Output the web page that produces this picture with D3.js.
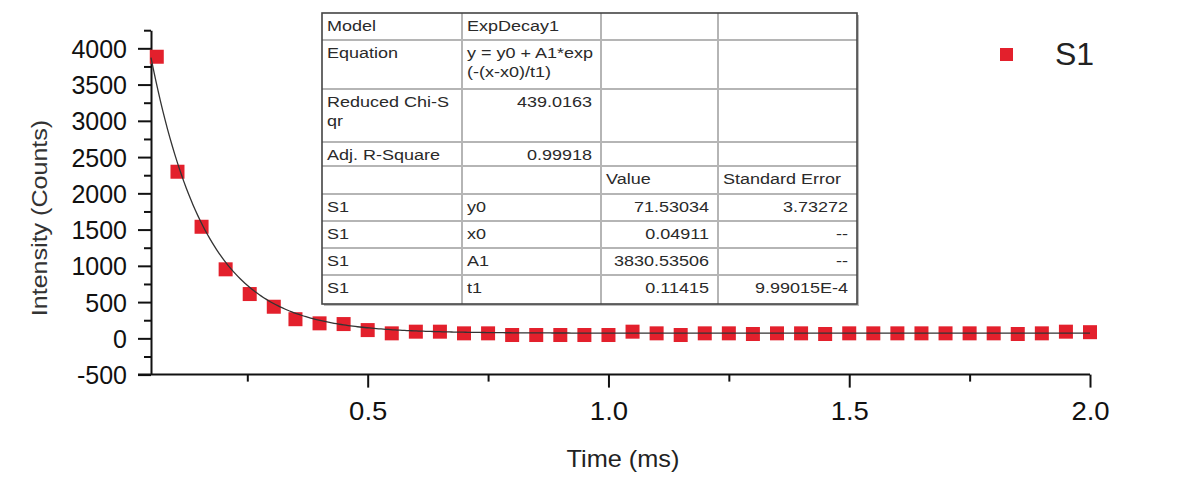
<!DOCTYPE html>
<html>
<head>
<meta charset="utf-8">
<script src="https://cdn.jsdelivr.net/npm/d3@7"></script>
<style>
  html, body { margin: 0; padding: 0; background: #fff; }
  svg { display: block; font-family: "Liberation Sans", Arial, sans-serif; }
</style>
</head>
<body>
<svg id="chart" width="1200" height="502"></svg>
<script>
// ---- data ----
const timeValues = [0.062, 0.105, 0.155, 0.205, 0.255, 0.305, 0.35, 0.40, 0.45, 0.50,
  0.55, 0.60, 0.65, 0.70, 0.75, 0.80, 0.85, 0.90, 0.95, 1.00,
  1.05, 1.10, 1.15, 1.20, 1.25, 1.30, 1.35, 1.40, 1.45, 1.50,
  1.55, 1.60, 1.65, 1.70, 1.75, 1.80, 1.85, 1.90, 1.95, 2.00];
const intensityValues = [3884, 2298, 1539, 952, 611, 436, 264, 207, 197, 114,
  69, 92, 92, 69, 69, 46, 46, 46, 46, 46,
  92, 69, 46, 69, 69, 60, 69, 69, 60, 69,
  69, 69, 69, 69, 69, 69, 60, 69, 92, 85];
const xMajorTicks = [0.5, 1.0, 1.5, 2.0];
const xMinorTicks = [0.25, 0.75, 1.25, 1.75];
const yMajorTicks = [-500, 0, 500, 1000, 1500, 2000, 2500, 3000, 3500, 4000];
const yMinorTicks = [-250, 250, 750, 1250, 1750, 2250, 2750, 3250, 3750, 4250];
const xDomain = [0.05, 2.0];
const yDomain = [-500, 4250];
const seriesName = "S1";
const xTitle = "Time (ms)";
const yTitle = "Intensity (Counts)";
// fit parameters (ExpDecay1)
const fitParams = { y0: 71.53034, x0: 0.04911, A1: 3830.53506, t1: 0.11415 };
const tableRows = [
  ["Model", "ExpDecay1", "", ""],
  ["Equation", "y = y0 + A1*exp\n(-(x-x0)/t1)", "", ""],
  ["Reduced Chi-S\nqr", "439.0163", "", ""],
  ["Adj. R-Square", "0.99918", "", ""],
  ["", "", "Value", "Standard Error"],
  ["S1", "y0", "71.53034", "3.73272"],
  ["S1", "x0", "0.04911", "--"],
  ["S1", "A1", "3830.53506", "--"],
  ["S1", "t1", "0.11415", "9.99015E-4"]
];

// ---- layout ----
const svg = d3.select("#chart");
const x = d3.scaleLinear().domain(xDomain).range([151, 1090]);
const y = d3.scaleLinear().domain(yDomain).range([374.6, 30.2]);
const axisColor = "#111";
const fontFam = "Liberation Sans, Arial, sans-serif";

// Y axis
const yAxisG = svg.append("g").attr("transform", `translate(${x.range()[0]},0)`);
yAxisG.append("g").call(d3.axisLeft(y).tickValues(yMinorTicks).tickSize(7).tickFormat(""))
  .call(g => g.select(".domain").remove());
const yMaj = yAxisG.append("g").call(d3.axisLeft(y).tickValues(yMajorTicks).tickSize(13).tickSizeOuter(0).tickFormat(d => String(d)));
yAxisG.selectAll("line").attr("stroke", axisColor).attr("stroke-width", 2);
yAxisG.selectAll(".domain").attr("stroke", axisColor).attr("stroke-width", 2);
yMaj.selectAll("text")
  .attr("x", -24).attr("dy", "0.36em")
  .attr("font-size", 25).attr("fill", "#111")
  .attr("font-family", fontFam);

// X axis
const xAxisG = svg.append("g").attr("transform", `translate(0,${y(yDomain[0])})`);
xAxisG.append("g").call(d3.axisBottom(x).tickValues(xMinorTicks).tickSize(7).tickFormat(""))
  .call(g => g.select(".domain").remove());
const xMaj = xAxisG.append("g").call(d3.axisBottom(x).tickValues(xMajorTicks).tickSize(13).tickSizeOuter(0).tickFormat(d3.format(".1f")));
xMaj.select(".domain").attr("d", `M138,0H${x.range()[1]}`);
xAxisG.selectAll("line").attr("stroke", axisColor).attr("stroke-width", 2);
xAxisG.selectAll(".domain").attr("stroke", axisColor).attr("stroke-width", 2);
xMaj.selectAll("text")
  .attr("y", 45).attr("dy", 0)
  .attr("transform", "scale(1.1,1)")
  .attr("font-size", 25).attr("fill", "#111")
  .attr("font-family", fontFam);

// Axis titles
svg.append("text")
  .attr("transform", "translate(47,218) rotate(-90) scale(1.14,1)")
  .attr("text-anchor", "middle")
  .attr("font-size", 22).attr("fill", "#333")
  .text(yTitle);
svg.append("text")
  .attr("transform", "translate(623,467) scale(1.1,1)")
  .attr("text-anchor", "middle")
  .attr("font-size", 23).attr("fill", "#222")
  .text(xTitle);

// Data markers
const pts = timeValues.map((t, i) => ({ t, v: intensityValues[i] }));
const ms = 14;
svg.append("g").selectAll("rect").data(pts).join("rect")
  .attr("x", d => x(d.t) - ms / 2)
  .attr("y", d => y(d.v) - ms / 2)
  .attr("width", ms).attr("height", ms)
  .attr("fill", "#e3202c");

// Fit curve
const fitX = d3.range(0, 401).map(i => xDomain[0] + (xDomain[1] - xDomain[0]) * i / 400);
const fitLine = d3.line()
  .x(d => x(d))
  .y(d => y(fitParams.y0 + fitParams.A1 * Math.exp(-(d - fitParams.x0) / fitParams.t1)));
svg.append("path").datum(fitX).attr("d", fitLine)
  .attr("fill", "none").attr("stroke", "#333").attr("stroke-width", 1.3);

// Legend
svg.append("rect").attr("x", 1000).attr("y", 48).attr("width", 13).attr("height", 13).attr("fill", "#e3202c");
svg.append("text").attr("x", 1055).attr("y", 65).attr("font-size", 32).attr("fill", "#222").text(seriesName);

// Table
const tLeft = 322, tRight = 857;
const colEdges = [tLeft, 462, 601, 718, tRight];
const rowEdges = [13, 40, 89, 142, 166, 194, 221, 248, 275, 304];
const tg = svg.append("g");
tg.append("rect").attr("x", tLeft + 2).attr("y", rowEdges[0] + 2)
  .attr("width", tRight - tLeft).attr("height", rowEdges[rowEdges.length - 1] - rowEdges[0])
  .attr("fill", "#bbb");
tg.append("rect").attr("x", tLeft).attr("y", rowEdges[0])
  .attr("width", tRight - tLeft).attr("height", rowEdges[rowEdges.length - 1] - rowEdges[0])
  .attr("fill", "#fff");
tg.selectAll("line.h").data(rowEdges.slice(1, -1)).join("line")
  .attr("x1", tLeft).attr("x2", tRight).attr("y1", d => d).attr("y2", d => d)
  .attr("stroke", "#b5b5b5").attr("stroke-width", 2);
tg.selectAll("line.v").data(colEdges.slice(1, -1)).join("line")
  .attr("y1", rowEdges[0]).attr("y2", rowEdges[rowEdges.length - 1]).attr("x1", d => d).attr("x2", d => d)
  .attr("stroke", "#b5b5b5").attr("stroke-width", 2);
tg.append("rect").attr("x", tLeft).attr("y", rowEdges[0])
  .attr("width", tRight - tLeft).attr("height", rowEdges[rowEdges.length - 1] - rowEdges[0])
  .attr("fill", "none").attr("stroke", "#444").attr("stroke-width", 1.6);

const tStretch = 1.2;
const isNum = s => /^[-\d.E]+$/.test(s);
tableRows.forEach((row, ri) => {
  row.forEach((cell, ci) => {
    if (!cell) return;
    const right = ci >= 1 && isNum(cell);
    const lines = cell.split("\n");
    lines.forEach((ln, li) => {
      const bx = right ? colEdges[ci + 1] - 9 : colEdges[ci] + 5;
      const by = rowEdges[ri] + 18 + li * 19;
      tg.append("text")
        .attr("transform", `translate(${bx},${by}) scale(${tStretch},1)`)
        .attr("text-anchor", right ? "end" : "start")
        .attr("font-size", 15).attr("fill", "#2a2a2a")
        .text(ln);
    });
  });
});
</script>
</body>
</html>
